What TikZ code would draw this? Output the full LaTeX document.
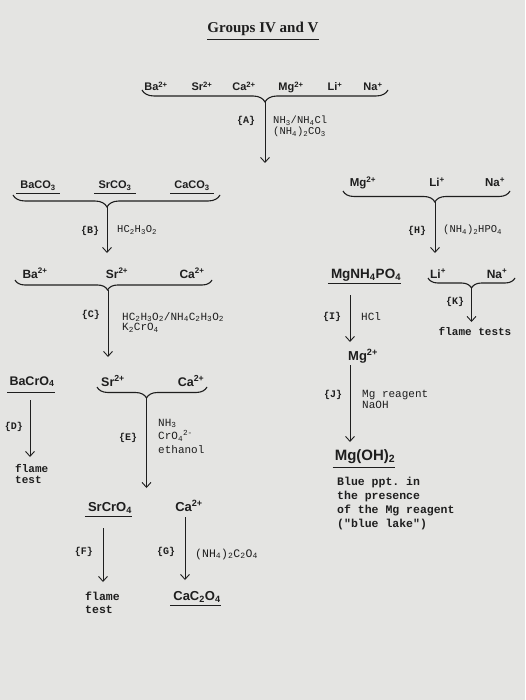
\documentclass[tikz,border=0pt]{standalone}
\usepackage{fontspec}
\setmainfont{Liberation Sans}
\newfontfamily\serifx{Liberation Serif}
\setmonofont{Liberation Mono}
\usetikzlibrary{decorations.pathreplacing,arrows.meta,calc}
\definecolor{paper}{RGB}{228,228,226}
\definecolor{ink}{RGB}{30,30,30}
\newcommand{\dnx}[1]{\textsubscript{#1}}
\newcommand{\upx}[1]{\textsuperscript{#1}}
\tikzset{
  ion/.style={inner sep=0pt, text=ink, anchor=base, font=\fontsize{#1}{#1}\selectfont\bfseries},
  rgt/.style args={#1/#2}{inner sep=0pt, text=ink, anchor=base west, align=left, font=\ttfamily\fontsize{#1}{#2}\selectfont},
  bnote/.style args={#1/#2}{inner sep=0pt, text=ink, anchor=base west, align=left, font=\ttfamily\bfseries\fontsize{#1}{#2}\selectfont},
  lbl/.style={inner sep=0pt, text=ink, font=\ttfamily\bfseries\fontsize{10}{10}\selectfont},
  brc/.style args={#1/#2}{decorate, decoration={brace, mirror, amplitude=#1, aspect=#2}, line width=1.1pt, draw=ink},
  arr/.style={-{Straight Barb[length=5pt,width=9pt]}, line width=0.9pt, draw=ink},
  ul/.style={line width=1pt, draw=ink}
}
\begin{document}
\begin{tikzpicture}[x=1pt,y=-1pt]
\fill[paper] (0,0) rectangle (525,700);
\useasboundingbox (0,0) rectangle (525,700);
% title
\node[inner sep=0pt, anchor=base, text=ink, font=\serifx\bfseries\fontsize{15}{15}\selectfont] (title) at (263,33) {Groups IV and V};
\draw[ul] ($(title.base west)+(0,7)$) -- ($(title.base east)+(0,7)$);
% row 1
\node[ion=11] (ba1) at (156,91) {Ba\upx{2+}};
\node[ion=11] (sr1) at (202,91) {Sr\upx{2+}};
\node[ion=11] (ca1) at (244,91) {Ca\upx{2+}};
\node[ion=11] (mg1) at (291,91) {Mg\upx{2+}};
\node[ion=11] (li1) at (335,91) {Li\upx{+}};
\node[ion=11] (na1) at (373,91) {Na\upx{+}};
\draw[brc=12pt/0.5] (142,90) -- (388,90);
\coordinate (tA) at (265,102);
\coordinate (eA) at (265,163);
\draw[arr] (tA) -- (eA);
\node[lbl] (lA) at (246,121) {\{A\}};
\node[rgt=10.5/11] (rA) at (273,135) {NH\dnx{3}/NH\dnx{4}Cl\\(NH\dnx{4})\dnx{2}CO\dnx{3}};
% row 2 left
\node[ion=11] (baco) at (38,189) {BaCO\dnx{3}};
\node[ion=11] (srco) at (115,189) {SrCO\dnx{3}};
\node[ion=11] (caco) at (192,189) {CaCO\dnx{3}};
\foreach \n in {baco,srco,caco}{
  \draw[ul] ($(\n.base west)+(-4,5)$) -- ($(\n.base east)+(4,5)$);
}
\draw[brc=12pt/0.454] (13,195) -- (220,195);
\coordinate (tB) at (107,207);
\coordinate (eB) at (107,253);
\draw[arr] (tB) -- (eB);
\node[lbl] (lB) at (90,231) {\{B\}};
\node[rgt=10.5/11] (rB) at (117,233) {HC\dnx{2}H\dnx{3}O\dnx{2}};
% row 2 right
\node[ion=11.5] (mg2) at (363,187) {Mg\upx{2+}};
\node[ion=11.5] (li2) at (437,187) {Li\upx{+}};
\node[ion=11.5] (na2) at (495,187) {Na\upx{+}};
\draw[brc=11pt/0.55] (343,191) -- (510,191);
\coordinate (tH) at (435,202);
\coordinate (eH) at (435,253);
\draw[arr] (tH) -- (eH);
\node[lbl] (lH) at (417,231) {\{H\}};
\node[rgt=10.5/11] (rH) at (443,233) {(NH\dnx{4})\dnx{2}HPO\dnx{4}};
% row 3 left
\node[ion=12] (ba3) at (35,278) {Ba\upx{2+}};
\node[ion=12] (sr3) at (117,278) {Sr\upx{2+}};
\node[ion=12] (ca3) at (192,278) {Ca\upx{2+}};
\draw[brc=10pt/0.47] (15,280) -- (212,280);
\coordinate (tC) at (108,290);
\coordinate (eC) at (108,357);
\draw[arr] (tC) -- (eC);
\node[lbl] (lC) at (91,315) {\{C\}};
\node[rgt=11/10.5] (rC) at (122,330.5) {HC\dnx{2}H\dnx{3}O\dnx{2}/NH\dnx{4}C\dnx{2}H\dnx{3}O\dnx{2}\\K\dnx{2}CrO\dnx{4}};
% row 3 right
\node[ion=13.5] (mgnh) at (366,278) {MgNH\dnx{4}PO\dnx{4}};
\draw[ul] ($(mgnh.base west)+(-3,5)$) -- ($(mgnh.base east)+(0,5)$);
\node[ion=12] (li3) at (438,278) {Li\upx{+}};
\node[ion=12] (na3) at (497,278) {Na\upx{+}};
\draw[brc=10pt/0.5] (428,278) -- (515,278);
\coordinate (tK) at (471.5,288);
\coordinate (eK) at (471.5,322);
\draw[arr] (tK) -- (eK);
\node[lbl] (lK) at (455,302) {\{K\}};
\node[bnote=11/11, anchor=base] (fK) at (475,335) {flame tests};
\coordinate (sI) at (350,295);
\coordinate (eI) at (350,342);
\draw[arr] (sI) -- (eI);
\node[lbl] (lI) at (332,317) {\{I\}};
\node[rgt=11/11] (rI) at (361,320) {HCl};
\node[ion=13] (mg4) at (363,360) {Mg\upx{2+}};
\coordinate (sJ) at (350,365);
\coordinate (eJ) at (350,442);
\draw[arr] (sJ) -- (eJ);
\node[lbl] (lJ) at (333,395) {\{J\}};
\node[rgt=11/11] (rJ) at (362,408) {Mg reagent\\NaOH};
\node[ion=15] (mgoh) at (365,460) {Mg(OH)\dnx{2}};
\draw[ul] ($(mgoh.base west)+(-2,7)$) -- ($(mgoh.base east)+(0,7)$);
\node[bnote=11.5/14] (blue) at (337,527) {Blue ppt. in\\the presence\\of the Mg reagent\\("blue lake")};
% row 4 left
\node[ion=12.5] (bacr) at (32,385) {BaCrO\dnx{4}};
\draw[ul] ($(bacr.base west)+(-2,7)$) -- ($(bacr.base east)+(0,7)$);
\coordinate (sD) at (30,400);
\coordinate (eD) at (30,457);
\draw[arr] (sD) -- (eD);
\node[lbl] (lD) at (14,427) {\{D\}};
\node[bnote=11/11] (fD) at (15,483) {flame\\test};
\node[ion=12.5] (sr5) at (113,386) {Sr\upx{2+}};
\node[ion=12.5] (ca5) at (191,386) {Ca\upx{2+}};
\draw[brc=11pt/0.45] (97,387) -- (207,387);
\coordinate (tE) at (146.5,398);
\coordinate (eE) at (146.5,488);
\draw[arr] (tE) -- (eE);
\node[lbl] (lE) at (128,438) {\{E\}};
\node[rgt=11/13.5] (rE) at (158,453) {NH\dnx{3}\\CrO\dnx{4}\upx{2-}\\ethanol};
% row 5
\node[ion=13] (srcr) at (110,511) {SrCrO\dnx{4}};
\draw[ul] ($(srcr.base west)+(-3,5)$) -- ($(srcr.base east)+(0,5)$);
\node[ion=13] (ca6) at (189,511) {Ca\upx{2+}};
\coordinate (sF) at (103,528);
\coordinate (eF) at (103,582);
\draw[arr] (sF) -- (eF);
\node[lbl] (lF) at (84,552) {\{F\}};
\node[bnote=11.5/13] (fF) at (85,613) {flame\\test};
\coordinate (sG) at (185,517);
\coordinate (eG) at (185,580);
\draw[arr] (sG) -- (eG);
\node[lbl] (lG) at (166,552) {\{G\}};
\node[rgt=11.5/12] (rG) at (195,557) {(NH\dnx{4})\dnx{2}C\dnx{2}O\dnx{4}};
\node[ion=13] (cac2) at (197,600) {CaC\dnx{2}O\dnx{4}};
\draw[ul] ($(cac2.base west)+(-3,5)$) -- ($(cac2.base east)+(0,5)$);
\end{tikzpicture}
\end{document}
